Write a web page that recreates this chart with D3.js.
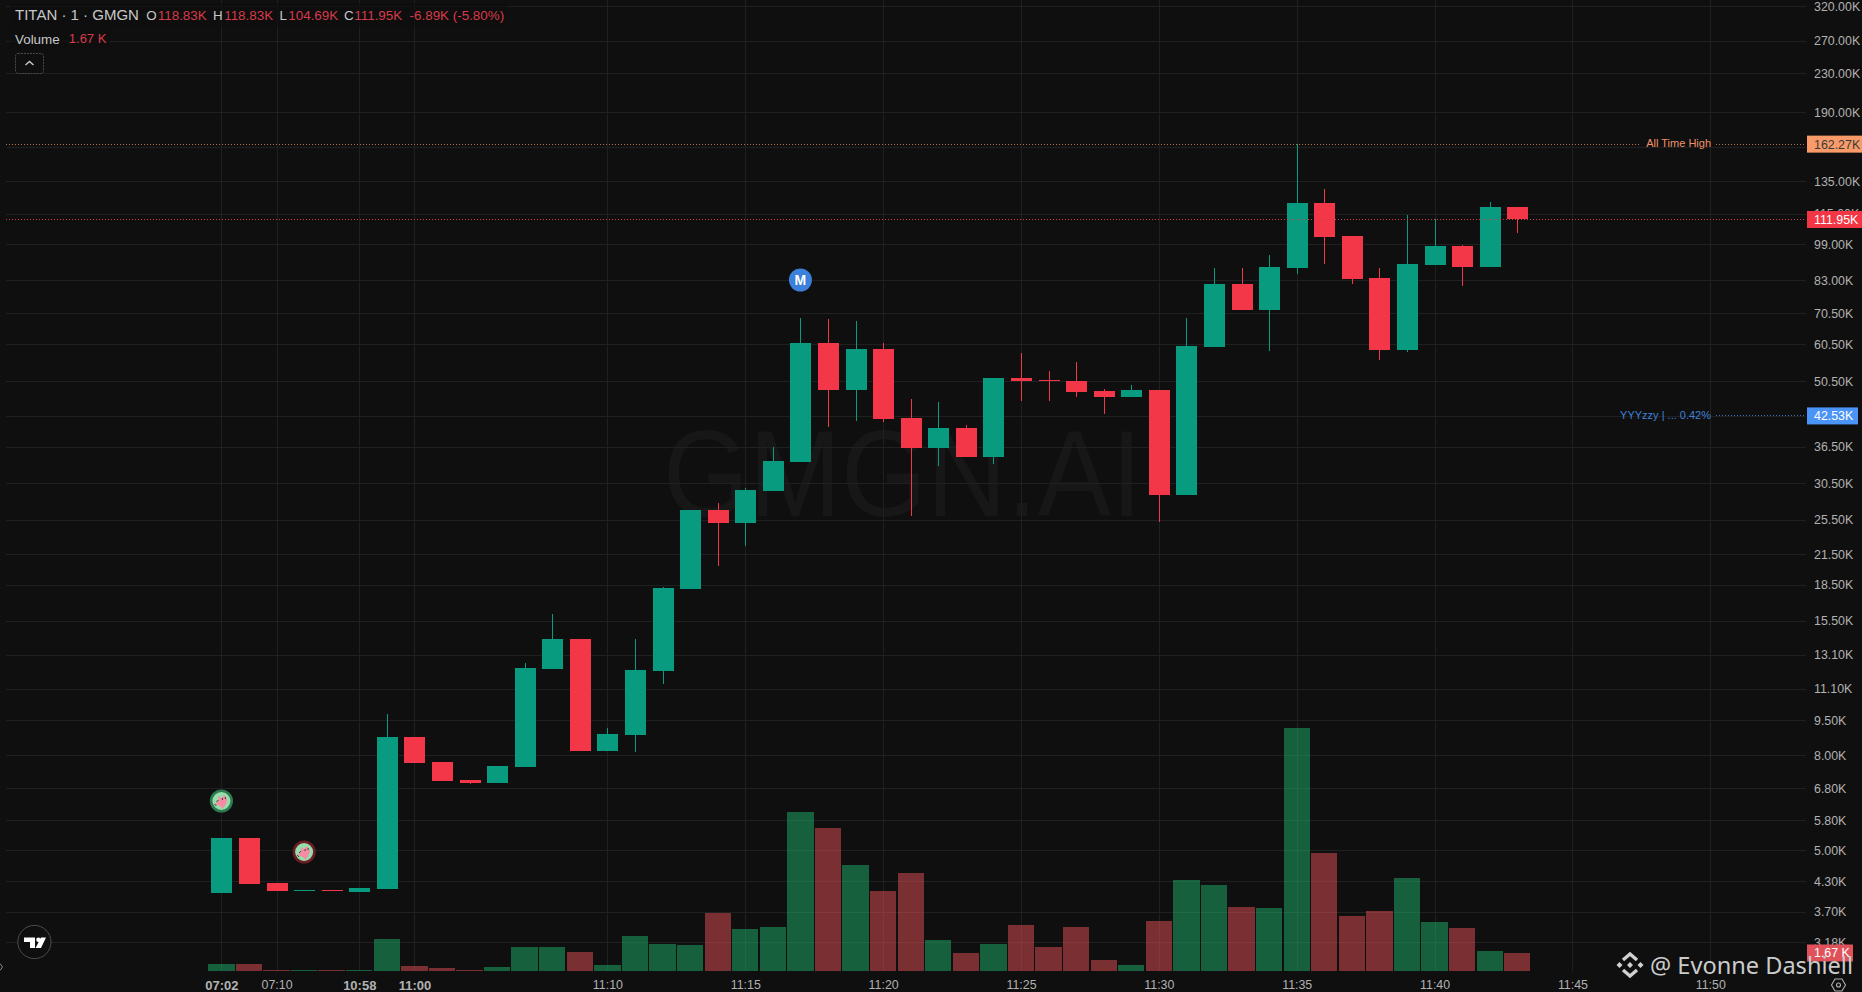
<!DOCTYPE html>
<html lang="en">
<head>
<meta charset="UTF-8">
<title>TITAN / GMGN</title>
<script src="https://cdn.jsdelivr.net/npm/d3@7"></script>
<style>
    html, body { margin: 0; padding: 0; background: #0f0f0f; overflow: hidden; }
    svg { display: block; font-family: "Liberation Sans", Arial, sans-serif; }
    .grid line { stroke: #202020; shape-rendering: crispEdges; }
    .grid path { display: none; }
    .grid text { fill: #b2b2b2; font-size: 12.4px; }
</style>
</head>
<body>
<svg id="chart" width="1862" height="992"></svg>
<script>
// candles, prices in K
const open_ = [4.06,5.32,4.26,4.10,4.12,4.08,4.14,8.75,7.73,7.08,6.97,7.55,12.23,14.18,8.17,8.84,12.11,18.13,26.76,25.10,29.39,33.9,60.9,48.3,59.2,42.1,36.3,40.1,34.75,51.3,50.8,50.5,48.1,46.7,48.3,28.82,59.7,81.5,71.7,88.2,121.4,103.2,83.9,58.9,89.5,98.3,88.6,118.83];
const high_ = [5.32,5.32,4.26,4.12,4.12,4.16,9.80,8.75,7.73,7.08,7.58,12.60,16.04,14.18,9.15,14.18,18.31,26.76,27.70,29.83,36.5,68.9,68.6,67.9,60.9,46.2,45.6,40.7,51.3,58.0,53.1,55.5,48.6,49.5,48.3,68.9,88.2,88.2,94.0,162.27,130.1,103.2,88.2,114.5,111.95,98.7,122.0,118.83];
const low_ = [4.06,4.24,4.10,4.10,4.10,4.08,4.14,7.70,7.04,6.94,6.97,7.55,12.23,8.17,8.17,8.12,11.36,18.13,20.31,22.41,29.39,33.9,40.3,41.5,41.3,25.98,33.24,34.75,33.57,45.8,45.8,46.7,42.9,46.7,25.23,28.82,59.7,71.7,58.6,85.6,89.9,81.5,56.0,58.3,89.5,80.7,88.6,104.69];
const close_ = [5.32,4.24,4.10,4.12,4.10,4.16,8.75,7.70,7.04,6.97,7.58,12.29,14.18,8.17,8.88,12.17,18.22,26.76,25.10,29.54,34.07,60.9,48.3,59.2,41.9,36.3,40.1,34.75,51.3,50.5,50.5,47.9,46.7,48.3,28.82,60.0,81.5,71.7,88.6,121.4,102.7,83.5,58.9,89.9,98.3,88.6,118.83,111.95];
const volume = [0.65,0.65,0.09,0.09,0.09,0.09,2.97,0.46,0.28,0.09,0.37,2.23,2.23,1.76,0.56,3.25,2.51,2.41,5.38,3.90,4.08,14.76,13.27,9.84,7.42,9.09,2.88,1.67,2.51,4.27,2.23,4.08,1.02,0.56,4.64,8.44,7.98,5.94,5.85,22.55,10.95,5.10,5.57,8.63,4.55,3.99,1.86,1.67];

const priceTicks = [320,270,230,190,160,135,115,99,83,70.5,60.5,50.5,42.5,36.5,30.5,25.5,21.5,18.5,15.5,13.1,11.1,9.5,8,6.8,5.8,5,4.3,3.7,3.18];
const timeIndex = [0,2,5,7,14,19,24,29,34,39,44,49,54];
const timeLabels = ["07:02","07:10","10:58","11:00","11:10","11:15","11:20","11:25","11:30","11:35","11:40","11:45","11:50"];
const boldTimes = ["07:02","10:58","11:00"];

const ATH = 162.27, LAST = 111.95, DEV = 42.53, LAST_VOL = 1.67;

const upColor = "#089b80", downColor = "#f43748";
const left = 6, right = 1806, bottom = 970.7;

const svg = d3.select("#chart");
const x = d3.scaleLinear().domain([0, 54]).range([221.4, 1710.3]);
const y = d3.scaleLog().domain([320, 3.18]).range([6.3, 942.3]);
const yVol = d3.scaleLinear().domain([0, 22.55]).range([971, 728]);

// watermark sits under the grid
svg.append("text")
    .attr("x", 663).attr("y", 516)
    .attr("font-size", 123)
    .attr("textLength", 479)
    .attr("lengthAdjust", "spacingAndGlyphs")
    .attr("fill", "#171717")
    .text("GMGN.AI");

// axes double as the grid
const yAxis = d3.axisRight(y)
    .tickValues(priceTicks)
    .tickFormat(d => d.toFixed(2) + "K")
    .tickSize(-(right - left))
    .tickPadding(8);
svg.append("g").attr("class", "grid")
    .attr("transform", `translate(${right},0)`)
    .call(yAxis);

const xAxis = d3.axisBottom(x)
    .tickValues(timeIndex)
    .tickFormat((d, i) => timeLabels[i])
    .tickSize(-bottom)
    .tickPadding(10);
const xg = svg.append("g").attr("class", "grid")
    .attr("transform", `translate(0,${bottom})`)
    .call(xAxis);
xg.selectAll("text")
    .attr("font-weight", (d, i) => boldTimes.includes(timeLabels[i]) ? "bold" : "normal")
    .style("font-size", (d, i) => boldTimes.includes(timeLabels[i]) ? "13px" : null);

// volume
const idx = d3.range(open_.length);
svg.append("g").selectAll("rect").data(idx).join("rect")
    .attr("x", i => x(i) - 13.2)
    .attr("width", 26.4)
    .attr("y", i => yVol(volume[i]))
    .attr("height", i => yVol(0) - yVol(volume[i]))
    .attr("fill", i => close_[i] >= open_[i] ? "rgba(29,177,109,.5)" : "rgba(229,79,87,.5)")
    .attr("shape-rendering", "crispEdges");

// price lines
function dotted(x1, x2, py, color) {
    svg.append("line")
        .attr("x1", x1).attr("x2", x2).attr("y1", py).attr("y2", py)
        .attr("stroke", color).attr("stroke-width", 1)
        .attr("stroke-dasharray", "1 2")
        .attr("shape-rendering", "crispEdges");
}
dotted(left, 1640, Math.floor(y(ATH)) + .5, "#b5724f");
dotted(1716, 1805, Math.floor(y(ATH)) + .5, "#b5724f");
dotted(1716, 1805, Math.floor(y(DEV)) + .5, "#3a6fb8");

// candles
const candles = svg.append("g").attr("shape-rendering", "crispEdges");
candles.selectAll("rect.wick").data(idx).join("rect").attr("class", "wick")
    .attr("x", i => Math.round(x(i)) - .5)
    .attr("width", 1)
    .attr("y", i => y(high_[i]))
    .attr("height", i => y(low_[i]) - y(high_[i]))
    .attr("fill", i => close_[i] >= open_[i] ? upColor : downColor);
candles.selectAll("rect.body").data(idx).join("rect").attr("class", "body")
    .attr("x", i => Math.round(x(i)) - 10.5)
    .attr("width", 21)
    .attr("y", i => y(Math.max(open_[i], close_[i])))
    .attr("height", i => Math.max(1, y(Math.min(open_[i], close_[i])) - y(Math.max(open_[i], close_[i]))))
    .attr("fill", i => close_[i] >= open_[i] ? upColor : downColor);

// last price line goes over the candles
dotted(left, 1805, Math.floor(y(LAST)) + .5, "#d23a49");

// labels on the price scale
function priceTag(value, text, w, bg, fg) {
    const py = y(value);
    svg.append("rect")
        .attr("x", 1807).attr("y", py - 8.5).attr("width", w).attr("height", 17)
        .attr("fill", bg);
    svg.append("text")
        .attr("x", 1814).attr("y", py).attr("dy", ".36em")
        .attr("font-size", 12.4).attr("fill", fg)
        .text(text);
}
priceTag(ATH, "162.27K", 55, "#f89b69", "#3a3a3a");
priceTag(LAST, "111.95K", 55, "#f23645", "#ffffff");
priceTag(DEV, "42.53K", 51, "#4a94f7", "#ffffff");

svg.append("text").attr("x", 1711).attr("y", y(ATH) - 1).attr("dy", ".34em")
    .attr("text-anchor", "end").attr("font-size", 11).attr("fill", "#f0936a")
    .text("All Time High");
svg.append("text").attr("x", 1711).attr("y", y(DEV) - 1).attr("dy", ".34em")
    .attr("text-anchor", "end").attr("font-size", 11).attr("fill", "#3f80d8")
    .text("YYYzzy | ... 0.42%");

// volume tag
svg.append("rect")
    .attr("x", 1807).attr("y", yVol(LAST_VOL) - 8.5).attr("width", 46).attr("height", 17)
    .attr("fill", "#e0525b");
svg.append("text").attr("x", 1814).attr("y", yVol(LAST_VOL)).attr("dy", ".36em")
    .attr("font-size", 12.4).attr("fill", "#fff").text("1.67 K");

// legend
const legendBg = "rgba(15,15,15,.75)";
svg.append("rect").attr("x", 10).attr("y", 3).attr("width", 498).attr("height", 24).attr("fill", legendBg);
svg.append("rect").attr("x", 10).attr("y", 28).attr("width", 100).attr("height", 22).attr("fill", legendBg);

const gray = "#c8c8c8", red = "#d93a4a";
function legend(px, py, str, color, size) {
    svg.append("text").attr("x", px).attr("y", py).attr("dy", ".36em")
        .attr("font-size", size || 13.4).attr("fill", color).text(str);
}
legend(15, 14.7, "TITAN · 1 · GMGN", gray, 15);
legend(146.3, 14.7, "O", gray);
legend(157.8, 14.7, "118.83K", red);
legend(213, 14.7, "H", gray);
legend(224.2, 14.7, "118.83K", red);
legend(279.5, 14.7, "L", gray);
legend(288.3, 14.7, "104.69K", red);
legend(344, 14.7, "C", gray);
legend(354.3, 14.7, "111.95K", red);
legend(409.6, 14.7, "-6.89K (-5.80%)", red);
legend(15, 38.7, "Volume", gray);
legend(68.8, 38.7, "1.67 K", red, 13);

svg.append("rect")
    .attr("x", 15.5).attr("y", 53.5).attr("width", 28).attr("height", 20).attr("rx", 2.5)
    .attr("fill", "none").attr("stroke", "#4a4a4a").attr("stroke-dasharray", "2 1");
svg.append("path").attr("d", "M25.5 65 L29.5 61.5 L33.5 65")
    .attr("fill", "none").attr("stroke", gray).attr("stroke-width", 1.4);

// event markers
function avatar(cx, cy, ring) {
    svg.append("circle").attr("cx", cx).attr("cy", cy).attr("r", 10.3)
        .attr("fill", "#95deac").attr("stroke", ring).attr("stroke-width", 2.6);
    svg.append("path")
        .attr("d", `M${cx-7} ${cy+3} L${cx-3} ${cy} L${cx-3} ${cy-5} L${cx} ${cy-3} L${cx+3} ${cy-6} L${cx+6} ${cy-1} L${cx+4} ${cy+4} L${cx+1} ${cy+8} L${cx-1} ${cy+5} Z`)
        .attr("fill", "#f78ba3");
    svg.append("path")
        .attr("d", `M${cx-7} ${cy+3} L${cx-5} ${cy+5} M${cx-3} ${cy-1} L${cx-5} ${cy+1} M${cx+1} ${cy-3} v2 M${cx+4} ${cy-4} v2`)
        .attr("fill", "none").attr("stroke", "#3a3a3a").attr("stroke-width", 1);
}
avatar(x(0), 801, "#2c7a4e");
avatar(x(3), 852, "#6a1c24");

svg.append("circle").attr("cx", x(21)).attr("cy", 280).attr("r", 11.5).attr("fill", "#3c80dc");
svg.append("text").attr("x", x(21)).attr("y", 280).attr("dy", ".36em")
    .attr("text-anchor", "middle").attr("font-size", 14).attr("font-weight", "bold")
    .attr("fill", "#fff").text("M");

// tradingview badge
svg.append("circle").attr("cx", 34.4).attr("cy", 942).attr("r", 16.6)
    .attr("fill", "#0f0f0f").attr("stroke", "#4d4d4d");
svg.append("path").attr("d", "M24 937.5 H35 V948 H30 V942 H24 Z M41 937.5 H46 L41 948 H35.5 Z").attr("fill", "#fff");
svg.append("circle").attr("cx", 38.5).attr("cy", 939.8).attr("r", 2.3).attr("fill", "#fff");

// bit of a clipped label at the left edge
svg.append("path").attr("d", "M0 963.5 L2.5 967 L0 970.5")
    .attr("fill", "none").attr("stroke", "#8a8a8a").attr("stroke-width", 1);

// settings hexagon
svg.append("path").attr("d", "M1831.5 985 L1835 979 L1842 979 L1845.5 985 L1842 991 L1835 991 Z")
    .attr("fill", "none").attr("stroke", "#b0b0b0").attr("stroke-width", 1.1);
svg.append("circle").attr("cx", 1838.5).attr("cy", 985).attr("r", 2)
    .attr("fill", "none").attr("stroke", "#b0b0b0").attr("stroke-width", 1.1);

// binance square watermark
const bx = 1630, by = 965;
const diamond = (cx, cy, r) => `M${cx} ${cy-r} L${cx+r} ${cy} L${cx} ${cy+r} L${cx-r} ${cy} Z`;
svg.append("path").attr("fill", "#d0d0d0")
    .attr("d", diamond(bx - 10.5, by, 3) + diamond(bx + 10.5, by, 3) + diamond(bx, by, 3));
svg.append("path").attr("fill", "none").attr("stroke", "#d0d0d0").attr("stroke-width", 3.4)
    .attr("d", `M${bx-7} ${by-5} L${bx} ${by-11} L${bx+7} ${by-5} M${bx-7} ${by+5} L${bx} ${by+11} L${bx+7} ${by+5}`);
svg.append("text")
    .attr("x", 1650).attr("y", 973.5)
    .attr("font-family", "'Noto Sans', sans-serif").attr("font-size", 23.3)
    .attr("textLength", 203).attr("lengthAdjust", "spacingAndGlyphs")
    .attr("fill", "#cbcbcb")
    .text("@ Evonne Dashiell");
</script>
</body>
</html>
